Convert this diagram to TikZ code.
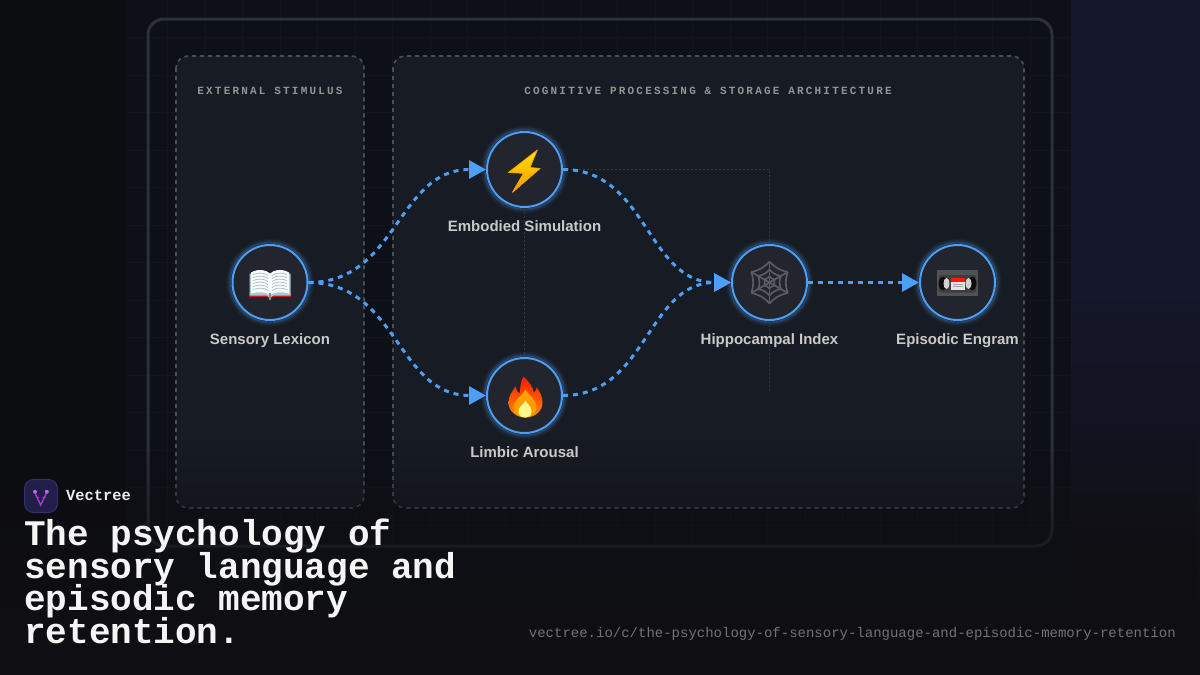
\documentclass[tikz,border=0pt]{standalone}
\usepackage{fontspec}
\setmainfont{Liberation Sans}
\newfontfamily\monofont{Liberation Mono}
\newfontfamily\capsfont[LetterSpace=20]{Liberation Mono}
\usepackage{xcolor}
\usetikzlibrary{positioning}
\usetikzlibrary{arrows.meta}
\usetikzlibrary{fadings}
\definecolor{basebg}{HTML}{0C0D11}
\definecolor{sidebg}{HTML}{15172B}
\definecolor{gridbg}{HTML}{0D1017}
\definecolor{gridln}{HTML}{12151D}
\definecolor{floorbg}{HTML}{0F0F13}
\definecolor{frameln}{HTML}{2C3139}
\definecolor{panelbg}{HTML}{171B23}
\definecolor{panelln}{HTML}{4A4E57}
\definecolor{stagebg}{HTML}{22252E}
\definecolor{flow}{HTML}{4D9EF5}
\definecolor{faint}{HTML}{333842}
\definecolor{webln}{HTML}{595C61}
\definecolor{logobg}{HTML}{211E4A}
\definecolor{logoln}{HTML}{36316D}
\definecolor{logomark}{HTML}{A63FD6}
\tikzfading[name=fadefloor, top color=transparent!100, bottom color=transparent!0]
\tikzset{
  panel/.style={fill=panelbg, draw=panelln, line width=1.6pt, dash pattern=on 4pt off 4pt, rounded corners=12pt},
  stage/.style={circle, minimum size=75pt, inner sep=0pt, outer sep=1pt, fill=stagebg, draw=flow, line width=2pt},
  stagelabel/.style={font=\bfseries\fontsize{15}{18}\selectfont, text=black!21, text height=12pt, text depth=3pt, inner sep=0pt},
  header/.style={font=\capsfont\bfseries\fontsize{11}{13}\selectfont, text=black!42!white, inner sep=0pt},
  flowline/.style={draw=flow, line width=3pt, dash pattern=on 5pt off 5pt, -{Triangle[length=17pt,width=18pt]}},
  faintline/.style={draw=faint, line width=1.2pt, dash pattern=on 1.5pt off 2.5pt},
  pics/bookicon/.style={code={
    \fill[red!75!black!90!white] (-21,10) -- (-21,14.5) -- (-3,14.5) -- (0,16.5) -- (3,14.5) -- (21,14.5) -- (21,10) -- cycle;
    \fill[cyan!30!white!85!black] (-20.5,-9) -- (-20.5,13) -- (-3,13) -- (0,15.5) -- (3,13) -- (20.5,13) -- (20.5,-9) -- cycle;
    \fill[white!96!cyan] (-19,-10) .. controls (-12,-14) and (-4,-13) .. (0,-9) -- (0,12.5) .. controls (-5,9) and (-12,9) .. (-19,11) -- cycle;
    \fill[white!96!cyan] (19,-10) .. controls (12,-14) and (4,-13) .. (0,-9) -- (0,12.5) .. controls (5,9) and (12,9) .. (19,11) -- cycle;
    \foreach \k in {-8,-5,...,7} {
      \draw[black!28, line width=0.7pt] (-17,\k) .. controls (-11,\k-2) and (-6,\k-2) .. (-2,\k+1);
      \draw[black!28, line width=0.7pt] (17,\k) .. controls (11,\k-2) and (6,\k-2) .. (2,\k+1);
    }
    \fill[black!45] (-1.3,10) rectangle (1.3,17);
  }},
  pics/bolticon/.style={code={
    \shade[top color=yellow!80!orange, bottom color=orange!85!yellow, draw=orange!70!yellow, line width=0.8pt, line join=round] (12.8,-19.5) -- (5.5,-2) -- (15.5,-1) -- (-12,22.8) -- (-1,3.8) -- (-16,3) -- cycle;
  }},
  pics/flameicon/.style={code={
    \shade[top color=red!80!orange, bottom color=orange!90!yellow] (-1,-19) .. controls (5,-13) and (9,-8) .. (9,-3) .. controls (11,-4) and (12,-6) .. (12,-8) .. controls (16,-3) and (18,2) .. (18,7) .. controls (18,16) and (10,22) .. (1,22) .. controls (-8,22) and (-16,16) .. (-16,7) .. controls (-16,0) and (-12,-4) .. (-9,-9) .. controls (-8,-5) and (-7,-3) .. (-5,-2) .. controls (-4,-8) and (-4,-14) .. (-1,-19) -- cycle;
    \fill[orange!75!yellow] (1,-6) .. controls (4,0) and (12,4) .. (12,11) .. controls (12,18) and (7,22) .. (1,22) .. controls (-6,22) and (-11,18) .. (-11,11) .. controls (-11,5) and (-3,1) .. (1,-6) -- cycle;
    \fill[yellow!45!white] (1,5) .. controls (3,9) and (7,11) .. (7,16) .. controls (7,20) and (4,22) .. (1,22) .. controls (-3,22) and (-6,20) .. (-6,16) .. controls (-6,11) and (-1,9) .. (1,5) -- cycle;
  }},
  pics/webicon/.style={code={
    \foreach \a in {30,90,...,330} {
      \draw[webln, line width=1.7pt] (0,0) -- (\a:21);
      \foreach \r in {6,13,21}
        \draw[webln, line width=1.7pt] (\a:\r) to[bend right=18] (\a+60:\r);
    }
  }},
  pics/tapeicon/.style={code={
    \fill[black!68] (-20.5,-12.5) rectangle (20.5,13);
    \fill[black!76, rounded corners=2pt] (-18.5,-7.5) rectangle (18.5,10);
    \fill[black!95] (-14.5,1) ellipse (4.5 and 6.5);
    \fill[black!95] (14.5,1) ellipse (4.5 and 6.5);
    \fill[black!18] (-11,1) ellipse (3 and 5.5);
    \fill[black!18] (11,1) ellipse (3 and 5.5);
    \fill[white!90!black] (-7,-5) rectangle (7,7);
    \fill[red!80!orange] (-7,-5) rectangle (7,-1);
    \foreach \k in {1.5,4}
      \draw[black!35, line width=0.6pt] (-5,\k) -- (5,\k);
  }},
}
\begin{document}
\begin{tikzpicture}[x=1pt,y=-1pt]
  \lineskiplimit=-100pt
  \useasboundingbox (0,0) rectangle (1200,675);
  \fill[basebg] (0,0) rectangle (1200,675);
  \fill[sidebg] (1071,0) rectangle (1200,280);
  \shade[top color=sidebg, bottom color=floorbg] (1071,279.5) rectangle (1200,610);
  \fill[gridbg] (125,0) rectangle (1071,620);
  \foreach \k in {1,...,24}
    \draw[gridln, line width=0.8pt] (130+37.5*\k,0) -- (130+37.5*\k,620);
  \foreach \k in {1,...,16}
    \draw[gridln, line width=0.8pt] (125,37.5*\k) -- (1071,37.5*\k);
  \draw[frameln, line width=3pt, rounded corners=16pt] (148,19) rectangle (1052,546);
  \draw[panel] (176,56) rectangle (364,508);
  \draw[panel] (393,56) rectangle (1024,508);
  \fill[floorbg, path fading=fadefloor] (0,440) rectangle (1200,610);
  \fill[floorbg] (0,609.5) rectangle (1200,675);

  \node[header] (stimulus) at (270,90.5) {EXTERNAL STIMULUS};
  \node[header] (storage) at (708,90.5) {COGNITIVE PROCESSING \& STORAGE ARCHITECTURE};

  \node[stage] (lex) at (270,282.5) {};
  \node[stage, on grid, above right=113pt and 254.5pt of lex] (sim) {};
  \node[stage, on grid, below right=113pt and 254.5pt of lex] (lim) {};
  \node[stage, on grid, below right=113pt and 245pt of sim] (hip) {};
  \node[stage, on grid, right=188pt of hip] (eng) {};

  \foreach \n in {lex,sim,lim,hip,eng}
    \foreach \r/\o in {39.5/0.30,40.5/0.20,41.5/0.12,42.5/0.07,43.5/0.04}
      \draw[flow, opacity=\o, line width=1.2pt] (\n) circle (\r pt);

  \coordinate (turn) at (sim -| hip);
  \coordinate (tail) at (769.5,393);
  \draw[faintline] (sim.south) -- (lim.north);
  \draw[faintline] (sim.east) -- (turn) -- (hip.north);
  \draw[faintline] (hip.south) -- (tail);

  \draw[flowline] (lex.east) .. controls +(89,0) and +(-89,0) .. (sim.west);
  \draw[flowline] (lex.east) .. controls +(89,0) and +(-89,0) .. (lim.west);
  \draw[flowline] (sim.east) .. controls +(84,0) and +(-84,0) .. (hip.west);
  \draw[flowline] (lim.east) .. controls +(84,0) and +(-84,0) .. (hip.west);
  \draw[flowline] (hip.east) -- (eng.west);

  \pic at (lex) {bookicon};
  \pic at (sim) {bolticon};
  \pic at (lim) {flameicon};
  \pic at (hip) {webicon};
  \pic at (eng) {tapeicon};

  \node[stagelabel, on grid, below=57.5pt of lex] (lexname) {Sensory Lexicon};
  \node[stagelabel, on grid, below=57.5pt of sim] (simname) {Embodied Simulation};
  \node[stagelabel, on grid, below=57.5pt of lim] (limname) {Limbic Arousal};
  \node[stagelabel, on grid, below=57.5pt of hip] (hipname) {Hippocampal Index};
  \node[stagelabel, on grid, below=57.5pt of eng] (engname) {Episodic Engram};

  \draw[draw=logoln, fill=logobg, rounded corners=9pt, line width=1pt] (24.5,479.5) rectangle (57.5,512.5);
  \draw[logomark, line width=1.3pt] (35,493) -- (40.7,505) -- (46.5,493);
  \draw[logomark, line width=1pt] (36,497) -- (39,497.5) (45.5,497) -- (42.5,497.5);
  \fill[logomark!80!white] (35,491.8) circle (2pt) (46.8,491.8) circle (2pt);
  \node[anchor=west, inner sep=0pt, font=\monofont\bfseries\fontsize{15.4}{18}\selectfont, text=black!8] (brand) at (66,495.5) {Vectree};
  \node[anchor=north west, inner sep=0pt, align=left, text=white!96!black, font=\monofont\bfseries\fontsize{36}{32.4}\selectfont] (title) at (24,519) {The psychology of\\sensory language and\\episodic memory\\retention.};
  \node[anchor=east, inner sep=0pt, font=\monofont\fontsize{14}{16}\selectfont, text=black!55] (link) at (1176,633.5) {vectree.io/c/the-psychology-of-sensory-language-and-episodic-memory-retention};
\end{tikzpicture}
\end{document}
